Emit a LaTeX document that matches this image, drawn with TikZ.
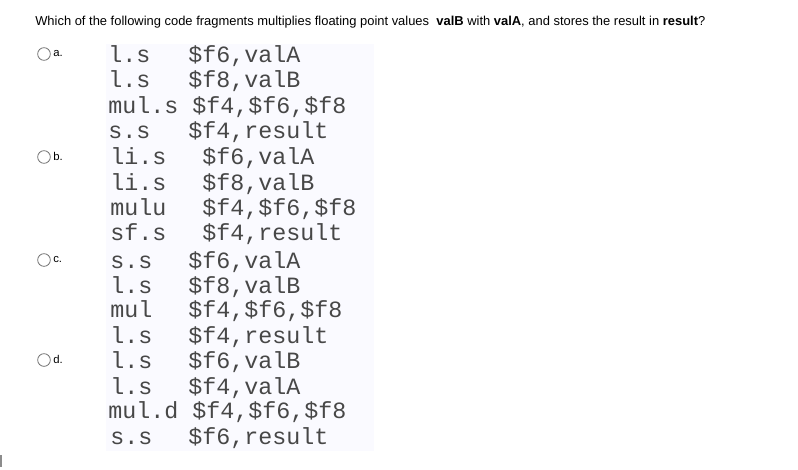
\documentclass[tikz,border=0pt]{standalone}
\usepackage{fontspec}
\setmainfont{Liberation Sans}
\newfontfamily\codefont{Liberation Mono}
\begin{document}
\begin{tikzpicture}[x=0.75pt,y=-0.75pt,
  code/.style={anchor=base west,inner sep=0pt,font=\codefont\fontsize{17.5}{20}\selectfont,text=black!72},
  radio/.style={circle,draw=black!55,line width=0.6pt,minimum size=9.5pt,inner sep=0pt},
  lab/.style={anchor=west,inner sep=0pt,font=\fontsize{8.5}{10}\selectfont},
  bg/.style={fill=blue!2!white,draw=none}]
\useasboundingbox (0,0) rectangle (798,469);
\fill[white] (0,0) rectangle (798,469);
\node[anchor=west,inner sep=0pt,font=\fontsize{9.7}{11}\selectfont] (q) at (35,22)
 {Which of the following code fragments multiplies floating point values \ \textbf{valB} with \textbf{valA}, and stores the result in \textbf{result}?};
\fill[bg] (106,44) rectangle (374,451);
\foreach \n/\y/\l in {ra/54/a.,rb/157/b.,rc/260/c.,rd/360/d.}{
  \node[radio] (\n) at (44,\y) {};
  \node[lab] (\n l) at (53,\y-1) {\l};
}
% a
\node[code] (a1) at (108,62) {l.s};   \node[code] (a1o) at (188,62) {\$f6,valA};
\node[code] (a2) at (108,87) {l.s};   \node[code] (a2o) at (188,87) {\$f8,valB};
\node[code] (a3) at (108,113) {mul.s};\node[code] (a3o) at (192,113) {\$f4,\$f6,\$f8};
\node[code] (a4) at (108,138) {s.s};  \node[code] (a4o) at (188,138) {\$f4,result};
% b
\node[code] (b1) at (110,164) {li.s}; \node[code] (b1o) at (202,164) {\$f6,valA};
\node[code] (b2) at (110,190) {li.s}; \node[code] (b2o) at (202,190) {\$f8,valB};
\node[code] (b3) at (110,215) {mulu}; \node[code] (b3o) at (202,215) {\$f4,\$f6,\$f8};
\node[code] (b4) at (110,240) {sf.s}; \node[code] (b4o) at (202,240) {\$f4,result};
% c
\node[code] (c1) at (110,268) {s.s};  \node[code] (c1o) at (188,268) {\$f6,valA};
\node[code] (c2) at (110,293) {l.s};  \node[code] (c2o) at (188,293) {\$f8,valB};
\node[code] (c3) at (110,317) {mul};  \node[code] (c3o) at (188,317) {\$f4,\$f6,\$f8};
\node[code] (c4) at (110,343) {l.s};  \node[code] (c4o) at (188,343) {\$f4,result};
% d
\node[code] (d1) at (110,368) {l.s};  \node[code] (d1o) at (188,368) {\$f6,valB};
\node[code] (d2) at (110,394) {l.s};  \node[code] (d2o) at (188,394) {\$f4,valA};
\node[code] (d3) at (108,418) {mul.d};\node[code] (d3o) at (192,418) {\$f4,\$f6,\$f8};
\node[code] (d4) at (110,444) {s.s};  \node[code] (d4o) at (188,444) {\$f6,result};
\fill[black!45] (0,455) rectangle (2,467);
\end{tikzpicture}
\end{document}
